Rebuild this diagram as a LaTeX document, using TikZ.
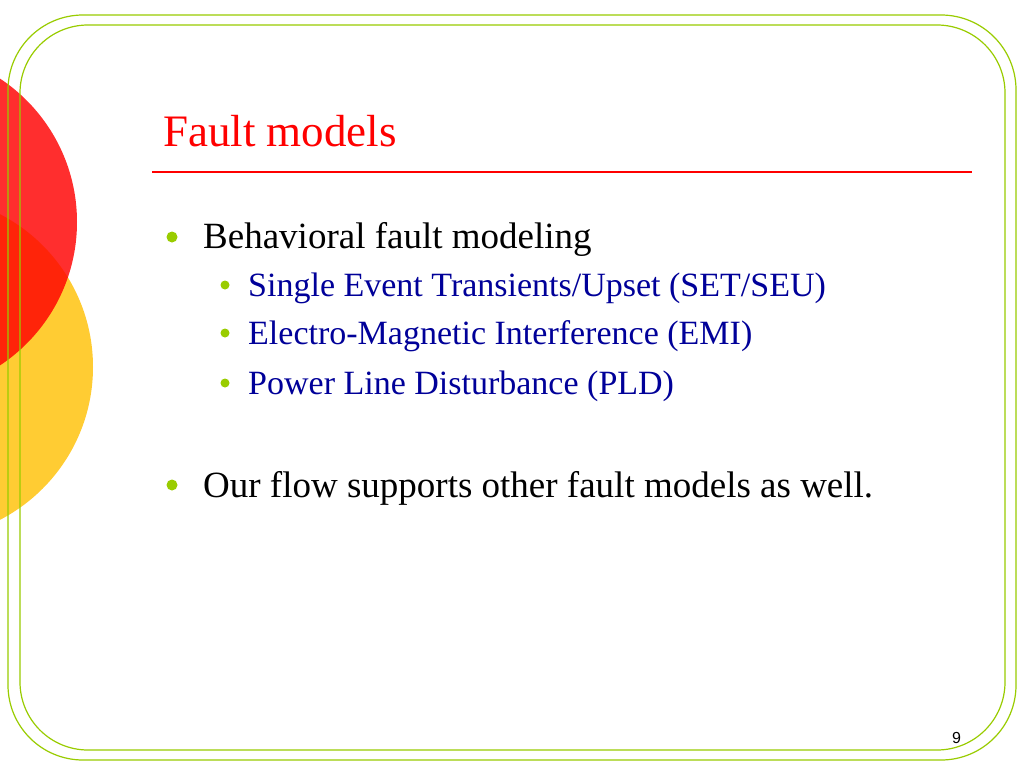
\documentclass[tikz,border=0pt]{standalone}
\usepackage{fontspec}
\setmainfont{Liberation Serif}
\newfontfamily\pnum{Liberation Sans}
\definecolor{frame}{HTML}{99CC00}
\definecolor{ttl}{HTML}{FF0000}
\definecolor{sub}{HTML}{000099}
\definecolor{dot}{HTML}{99CC00}
\begin{document}
\begin{tikzpicture}[x=1pt,y=-1pt,
  txt/.style={anchor=base west,inner sep=0pt,font=\fontsize{37}{40}\selectfont},
  subtxt/.style={anchor=base west,inner sep=0pt,text=sub,font=\fontsize{34}{38}\selectfont}]
\useasboundingbox (0,0) rectangle (1024,768);
\fill[white] (0,0) rectangle (1024,768);
\begin{scope}
\clip (0,0) rectangle (1024,768);
\fill[color={rgb,255:red,255;green,204;blue,51}] (-79,367) circle (172);
\fill[red,opacity=0.82] (-95,222) circle (172);
\end{scope}
\draw[frame,line width=1.2pt,rounded corners=75] (8,15) rectangle (1016,760);
\draw[frame,line width=1.2pt,rounded corners=68] (20,25) rectangle (1005,750);
\node[anchor=base west,inner sep=0pt,text=ttl,font=\fontsize{45}{48}\selectfont] (title) at (163,146) {Fault models};
\coordinate (l1) at (152,172); \coordinate (l2) at (972,172);
\draw[ttl,line width=1.2pt] (l1) -- (l2);
\fill[dot] (172,237) circle (5.5);
\node[txt] (b1) at (203,248) {Behavioral fault modeling};
\foreach \y/\t [count=\i] in {285/{Single Event Transients/Upset (SET/SEU)},333/{Electro-Magnetic Interference (EMI)},383/{Power Line Disturbance (PLD)}}{
  \fill[dot] (225,\y) circle (4.5);
  \node[subtxt] (s\i) at (248,\y+11) {\t};
}
\fill[dot] (172,485) circle (5.5);
\node[txt] (b2) at (203,497) {Our flow supports other fault models as well.};
\node[anchor=base west,inner sep=0pt,font=\pnum\fontsize{16}{18}\selectfont] (pg) at (952,743) {9};
\end{tikzpicture}
\end{document}
